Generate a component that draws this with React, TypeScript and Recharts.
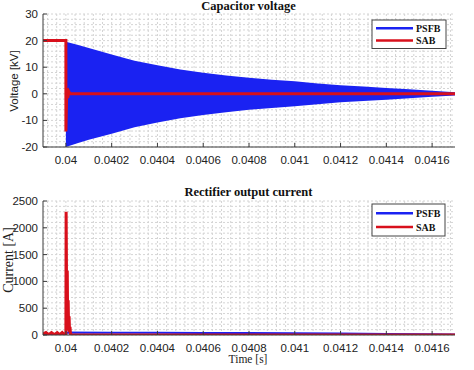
import {
  Area,
  CartesianGrid,
  ComposedChart,
  Line,
  LineChart,
  XAxis,
  YAxis,
} from 'recharts'

const timeTicks = [0.04, 0.0402, 0.0404, 0.0406, 0.0408, 0.041, 0.0412, 0.0414, 0.0416]
const voltageTicks = [-20, -10, 0, 10, 20, 30]
const currentTicks = [0, 500, 1000, 1500, 2000, 2500]

// PSFB capacitor voltage oscillates too fast to resolve, so keep its envelope
const psfbTime = [0.04, 0.04005, 0.0401, 0.04015, 0.0402, 0.0403, 0.0404, 0.0405, 0.0406, 0.0407, 0.0408, 0.0409, 0.041, 0.0411, 0.0412, 0.0413, 0.0414, 0.0415, 0.0416, 0.0417]
const psfbUpper = [19.6, 18.4, 17.2, 16.0, 14.8, 12.4, 10.7, 9.1, 7.9, 6.9, 6.0, 5.3, 4.7, 3.9, 3.2, 2.7, 2.2, 1.7, 1.1, 0.6]
const psfbLower = [-20, -18.6, -17.3, -16.1, -15.0, -12.6, -10.8, -9.2, -8.0, -6.9, -6.0, -5.3, -4.7, -3.9, -3.2, -2.7, -2.2, -1.7, -1.1, -0.6]

const sabVoltTime = [0.0399, 0.04, 0.04, 0.040004, 0.040008, 0.040013, 0.040018, 0.0417]
const sabVolt = [20, 20, -14.2, 2.2, -1.6, 0.8, 0, 0]

const psfbCurTime = [0.0399, 0.04, 0.040003, 0.0402, 0.0404, 0.0406, 0.0408, 0.041, 0.0412, 0.0414, 0.0416, 0.0417]
const psfbCur = [0, 0, 45, 42, 40, 38, 36, 34, 28, 18, 12, 10]

const sabCurTime = [0.0399, 0.039906, 0.039913, 0.039925, 0.039937, 0.03995, 0.039962, 0.039973, 0.039984, 0.039994, 0.04, 0.040001, 0.040004, 0.040006, 0.040008, 0.04001, 0.040012, 0.040014, 0.040016, 0.040018, 0.04002, 0.040025, 0.0417]
const sabCur = [10, 30, 45, 5, 45, 5, 45, 5, 45, 5, 20, 2300, 150, 1200, 100, 650, 80, 350, 50, 150, 20, 5, 2]

const steps = (from: number, step: number, count: number) =>
  Array.from({ length: count }, (_, i) => +(from + i * step).toFixed(6))

const minorTime = steps(0.03992, 0.00004, 45)
const minorVolt = steps(-20, 2, 26)
const minorCur = steps(0, 100, 26)

const bandData = psfbTime.map((t, i) => ({ t, band: [psfbLower[i], psfbUpper[i]] }))
const sabVoltData = sabVoltTime.map((t, i) => ({ t, v: sabVolt[i] }))
const psfbCurData = psfbCurTime.map((t, i) => ({ t, v: psfbCur[i] }))
const sabCurData = sabCurTime.map((t, i) => ({ t, v: sabCur[i] }))

const BLUE = '#1a22f2'
const RED = '#d8101c'
const AXIS = '#3a3a3a'
const SANS = "'Liberation Sans', Arial, sans-serif"
const SERIF = "'Liberation Serif', 'Times New Roman', serif"

const XTick = (props: any) => {
  const { x, y, payload } = props
  return (
    <g>
      <line x1={x} x2={x} y1={y} y2={y - 4} stroke={AXIS} />
      <text x={x} y={y + 16.5} textAnchor="middle" fontSize={11.5} fontFamily={SANS} fill="#222">
        {String(payload.value)}
      </text>
    </g>
  )
}

const YTick = (props: any) => {
  const { x, y, payload } = props
  return (
    <g>
      <line x1={x} x2={x + 4} y1={y} y2={y} stroke={AXIS} />
      <text x={x - 5} y={y + 4} textAnchor="end" fontSize={11.5} fontFamily={SANS} fill="#222">
        {String(payload.value)}
      </text>
    </g>
  )
}

const LegendBox = ({ x, y, w, h }: { x: number; y: number; w: number; h: number }) => {
  const row1 = y + h * 0.29
  const row2 = y + h * 0.72
  return (
    <g>
      <rect x={x} y={y} width={w} height={h} fill="#fff" stroke="#444" />
      <line x1={x + 4} x2={x + 41} y1={row1} y2={row1} stroke={BLUE} strokeWidth={2.5} />
      <line x1={x + 4} x2={x + 41} y1={row2} y2={row2} stroke={RED} strokeWidth={2.5} />
      <text x={x + 44} y={row1 + 3.5} fontSize={10} fontWeight="bold" fontFamily={SERIF} fill="#111">PSFB</text>
      <text x={x + 44} y={row2 + 3.5} fontSize={10} fontWeight="bold" fontFamily={SERIF} fill="#111">SAB</text>
    </g>
  )
}

export default function App() {
  return (
    <div style={{ position: 'absolute', left: 0, top: 0, width: 474, height: 370, background: '#fff' }}>
      <div style={{ position: 'absolute', left: 0, top: 0 }}>
        <ComposedChart width={474} height={185} data={bandData} margin={{ top: 14, right: 19, bottom: 0, left: 0 }}>
          <CartesianGrid stroke="#d4d4d4" strokeDasharray="2 2" verticalValues={minorTime} horizontalValues={minorVolt} />
          <XAxis
            dataKey="t"
            type="number"
            domain={[0.0399, 0.0417]}
            allowDataOverflow
            ticks={timeTicks}
            interval={0}
            height={38}
            tickSize={0}
            tickMargin={0}
            tickLine={false}
            stroke={AXIS}
            tick={<XTick />}
          />
          <YAxis
            type="number"
            domain={[-20, 30]}
            allowDataOverflow
            ticks={voltageTicks}
            interval={0}
            width={43}
            tickSize={0}
            tickMargin={0}
            tickLine={false}
            stroke={AXIS}
            tick={<YTick />}
          />
          <Area dataKey="band" type="linear" fill={BLUE} fillOpacity={1} stroke="none" isAnimationActive={false} />
          <Line data={sabVoltData} dataKey="v" type="linear" stroke={RED} strokeWidth={3} dot={false} isAnimationActive={false} />
        </ComposedChart>
      </div>
      <div style={{ position: 'absolute', left: 0, top: 185 }}>
        <LineChart width={474} height={185} margin={{ top: 16, right: 19, bottom: 0, left: 0 }}>
          <CartesianGrid stroke="#d4d4d4" strokeDasharray="2 2" verticalValues={minorTime} horizontalValues={minorCur} />
          <XAxis
            dataKey="t"
            type="number"
            domain={[0.0399, 0.0417]}
            allowDataOverflow
            ticks={timeTicks}
            interval={0}
            height={35}
            tickSize={0}
            tickMargin={0}
            tickLine={false}
            stroke={AXIS}
            tick={<XTick />}
          />
          <YAxis
            type="number"
            domain={[0, 2500]}
            allowDataOverflow
            ticks={currentTicks}
            interval={0}
            width={43}
            tickSize={0}
            tickMargin={0}
            tickLine={false}
            stroke={AXIS}
            tick={<YTick />}
          />
          <Line data={psfbCurData} dataKey="v" type="linear" stroke={BLUE} strokeWidth={2} dot={false} isAnimationActive={false} />
          <Line data={sabCurData} dataKey="v" type="linear" stroke={RED} strokeWidth={3} dot={false} isAnimationActive={false} />
        </LineChart>
      </div>
      <svg width={474} height={370} style={{ position: 'absolute', left: 0, top: 0, pointerEvents: 'none' }}>
        <text x={248.5} y={10} textAnchor="middle" fontSize={12.5} fontWeight="bold" fontFamily={SERIF} fill="#111">
          Capacitor voltage
        </text>
        <text x={248.5} y={196} textAnchor="middle" fontSize={12.5} fontWeight="bold" fontFamily={SERIF} fill="#111">
          Rectifier output current
        </text>
        <text x={248} y={363} textAnchor="middle" fontSize={11.5} fontFamily={SERIF} fill="#222">
          Time [s]
        </text>
        <text x={17.5} y={81} textAnchor="middle" fontSize={11.5} fontFamily={SANS} fill="#222" transform="rotate(-90 17.5 81)">
          Voltage [kV]
        </text>
        <text x={12.5} y={260} textAnchor="middle" fontSize={14} fontFamily={SERIF} fill="#222" transform="rotate(-90 12.5 260)">
          Current [A]
        </text>
        <LegendBox x={372} y={20} w={74} h={28.5} />
        <LegendBox x={372} y={204} w={73} h={32} />
      </svg>
    </div>
  )
}
